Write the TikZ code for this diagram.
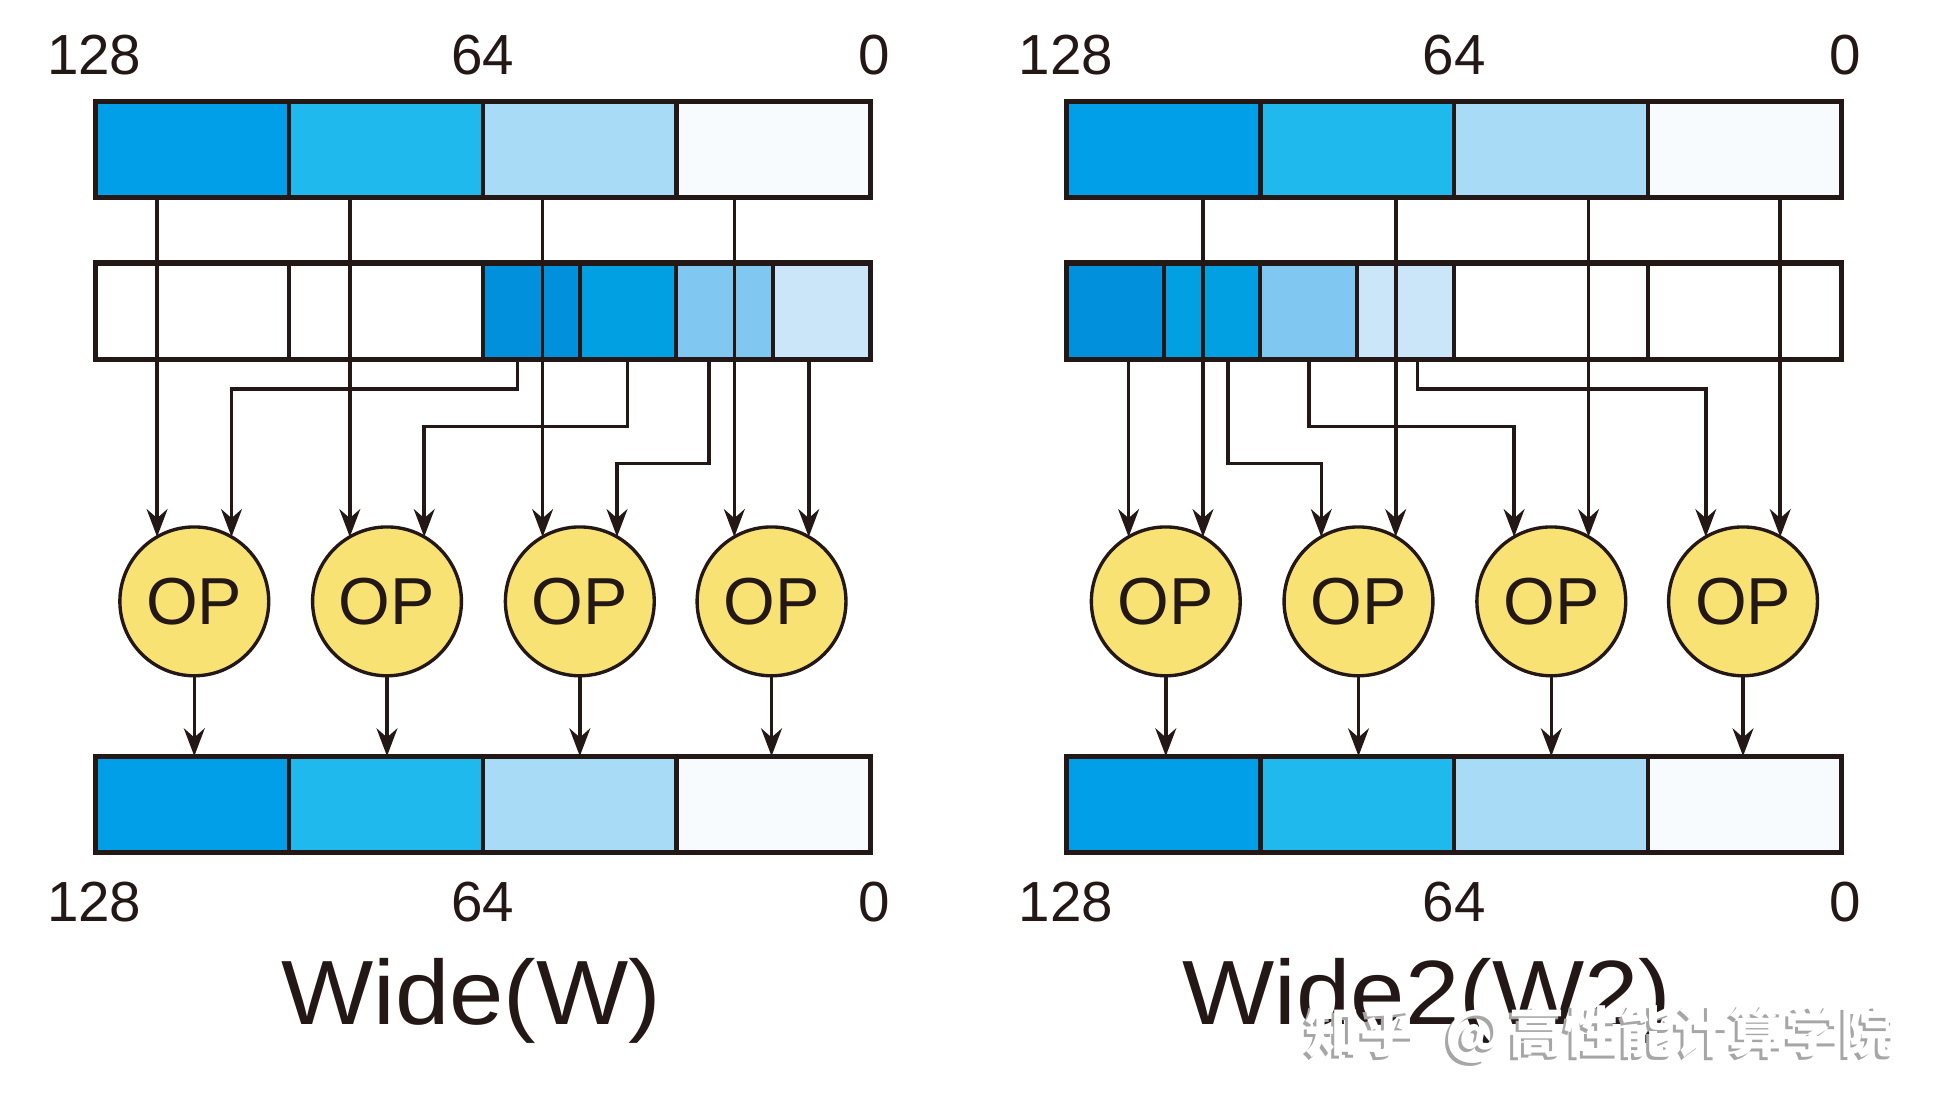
\documentclass[tikz,border=0pt]{standalone}
\usepackage{fontspec}
\setmainfont{Liberation Sans}
\newfontfamily\cjk{Noto Sans CJK SC}
\usetikzlibrary{arrows.meta}

\definecolor{lineink}{HTML}{231815}
\definecolor{partA}{HTML}{009FE8}
\definecolor{partB}{HTML}{1FB9EE}
\definecolor{partC}{HTML}{A8DCF6}
\definecolor{partD}{HTML}{F8FBFE}
\definecolor{halfA}{HTML}{0090DC}
\definecolor{halfB}{HTML}{00A0E3}
\definecolor{halfC}{HTML}{80C8F1}
\definecolor{halfD}{HTML}{CCE6F9}
\definecolor{opfill}{HTML}{F9E274}

\newcommand{\marktext}{知乎\hspace{15pt}@\hspace{3pt}高性能计算学院}

\tikzset{
	cell/.style={draw=lineink, line width=2pt, inner sep=0pt, outer sep=0pt, minimum width=97.6pt, minimum height=48.5pt},
	halfcell/.style={cell, minimum width=48.8pt},
	frame/.style={draw=lineink, line width=2.6pt},
	arr/.style={draw=lineink, line width=1.8pt, -{Stealth[length=14pt,width=10.5pt]}},
	opnode/.style={circle, draw=lineink, line width=1.7pt, fill=opfill, inner sep=0pt, outer sep=0pt, minimum size=75pt, text=lineink, font=\fontsize{33.5}{36}\selectfont},
	bitlabel/.style={anchor=base, inner sep=0pt, text=lineink, font=\fontsize{28.5}{30}\selectfont},
	titlelabel/.style={anchor=base, inner sep=0pt, text=lineink, xscale=1.07, transform shape, font=\fontsize{46}{50}\selectfont},
	markmark/.style={inner sep=0pt, font=\cjk\bfseries\fontsize{27.8}{32}\selectfont}
}

\begin{document}
\begin{tikzpicture}[x=0.5pt,y=-0.5pt]
\useasboundingbox (0,0) rectangle (1955,1120.6);

\foreach \p/\dx in {A/0,B/489.5}
{
\begin{scope}[xshift=\dx pt]
	%source and result bars
	\foreach \i/\x/\c in {1/193.6/partA,2/388.9/partB,3/584.1/partC,4/779.4/partD}
	{
		\node[cell, fill=\c] (t\p\i) at (\x,150.5) {};
		\node[cell, fill=\c] (b\p\i) at (\x,810.5) {};
	}
	\draw[frame] (t\p1.north west) rectangle (t\p4.south east);
	\draw[frame] (b\p1.north west) rectangle (b\p4.south east);

	%ops
	\foreach \i/\x in {1/195.8,2/390,3/584.3,4/777.5}
	{
		\node[opnode] (op\p\i) at (\x,606) {OP};
		\draw[arr] (op\p\i.south) -- (op\p\i.south |- b\p\i.north);
	}

	%bit numbers
	\foreach \y in {75.5,929}
	{
		\node[bitlabel] (n\p128\y) at (95,\y) {128};
		\node[bitlabel] (n\p64\y) at (486.5,\y) {64};
		\node[bitlabel] (n\p0\y) at (880.5,\y) {0};
	}
\end{scope}
}

%second bar, high half
\foreach \i/\x/\c in {3/535.3/halfA,4/632.9/halfB,5/730.5/halfC,6/828.1/halfD}
{
	\node[halfcell, fill=\c] (mA\i) at (\x,313.5) {};
}
\node[cell, fill=white] (mA1) at (193.6,313.5) {};
\node[cell, fill=white] (mA2) at (388.9,313.5) {};
\draw[frame] (mA1.north west) rectangle (mA6.south east);

%second bar, low half
\foreach \i/\x/\c in {1/1123.8/halfA,2/1221.4/halfB,3/1319/halfC,4/1416.6/halfD}
{
	\node[halfcell, fill=\c] (mB\i) at (\x,313.5) {};
}
\node[cell, fill=white] (mB5) at (1563.1,313.5) {};
\node[cell, fill=white] (mB6) at (1758.4,313.5) {};
\draw[frame] (mB1.north west) rectangle (mB6.south east);

%long arrows
\foreach \i in {1,2,3,4}
{
	\draw[arr] (tA\i.south -| opA\i.120) -- (opA\i.120);
	\draw[arr] (tB\i.south -| opB\i.60) -- (opB\i.60);
}

%left wires
\draw[arr] ([xshift=-7pt]mA3.south) -- ++(0,30) -| (opA1.60);
\draw[arr] ([xshift=-0.3pt]mA4.south) -- ++(0,68) -| (opA2.60);
\draw[arr] ([xshift=-8pt]mA5.south) -- ++(0,105) -| (opA3.60);
\draw[arr] (mA6.south -| opA4.60) -- (opA4.60);

%right wires
\draw[arr] (mB1.south -| opB1.120) -- (opB1.120);
\draw[arr] ([xshift=8pt]mB2.south) -- ++(0,105) -| (opB2.120);
\draw[arr] (mB3.south) -- ++(0,68) -| (opB3.120);
\draw[arr] ([xshift=6pt]mB4.south) -- ++(0,30) -| (opB4.120);

%titles
\node[titlelabel] (titleA) at (475,1032) {Wide(W)};
\node[titlelabel] (titleB) at (1438,1032) {Wide2(W2)};

%watermark, white over its grey shadow
\node[markmark, text=black!35] (zhihushadow) at (1610,1045) {\marktext};
\node[markmark, text=white] (zhihu) at (1613,1042) {\marktext};

\end{tikzpicture}
\end{document}
